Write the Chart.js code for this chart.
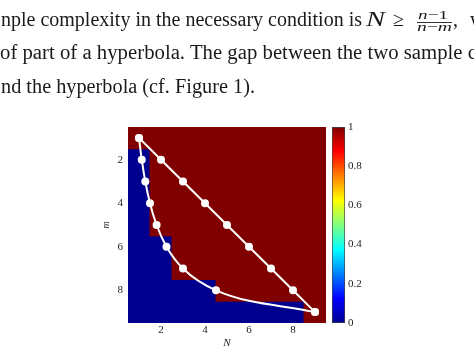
<!DOCTYPE html>
<html>
<head>
<meta charset="utf-8">
<script src="https://cdn.jsdelivr.net/npm/chart.js@4"></script>
<style>
  html, body { margin: 0; padding: 0; background: #fff; }
  body { width: 474px; height: 363px; position: relative; overflow: hidden; }
  canvas { position: absolute; left: 0; top: 0; }
  .txt {
    position: absolute;
    font-family: "Liberation Serif", serif;
    font-size: 20px;
    line-height: 20px;
    color: #1a1a1a;
    white-space: nowrap;
    transform-origin: 0 0;
  }
  .small { font-size: 13px; line-height: 13px; }
  .it { font-style: italic; }
  .bar { position: absolute; height: 1px; background: #333; }
</style>
</head>
<body>
<canvas id="heatmap" width="474" height="363"></canvas>
<canvas id="colorbar" width="474" height="363"></canvas>
<div id="page"></div>
<div class="bar" style="left:417px; top:22px; width:35px;"></div>

<script>
// grid axes
const nValues = [1, 2, 3, 4, 5, 6, 7, 8, 9];
const mValues = [1, 2, 3, 4, 5, 6, 7, 8, 9];

// success rate, one row per m, one column per N
const successGrid = [
  [1, 1, 1, 1, 1, 1, 1, 1, 1],
  [0, 1, 1, 1, 1, 1, 1, 1, 1],
  [0, 1, 1, 1, 1, 1, 1, 1, 1],
  [0, 1, 1, 1, 1, 1, 1, 1, 1],
  [0, 1, 1, 1, 1, 1, 1, 1, 1],
  [0, 0, 1, 1, 1, 1, 1, 1, 1],
  [0, 0, 1, 1, 1, 1, 1, 1, 1],
  [0, 0, 0, 0, 1, 1, 1, 1, 1],
  [0, 0, 0, 0, 0, 0, 0, 0, 1],
];

// sufficient condition line and necessary condition hyperbola
const lineN = [1, 2, 3, 4, 5, 6, 7, 8, 9];
const lineM = [1, 2, 3, 4, 5, 6, 7, 8, 9];
const hyperN = [1, 1.125, 1.286, 1.5, 1.8, 2.25, 3, 4.5, 9];
const hyperM = [1, 2, 3, 4, 5, 6, 7, 8, 9];

const xTicks = [2, 4, 6, 8];
const yTicks = [2, 4, 6, 8];
const colorbarTicks = [0, 0.2, 0.4, 0.6, 0.8, 1];
const colorbarLabels = ['0', '0.2', '0.4', '0.6', '0.8', '1'];

// jet colormap
const jetStops = [
  [0, [0, 0, 143]],
  [0.125, [0, 0, 255]],
  [0.375, [0, 255, 255]],
  [0.625, [255, 255, 0]],
  [0.875, [255, 0, 0]],
  [1, [128, 0, 0]],
];

function jet(v) {
  for (let i = 1; i < jetStops.length; i += 1) {
    const [p1, c1] = jetStops[i];
    const [p0, c0] = jetStops[i - 1];
    if (v <= p1) {
      const t = (v - p0) / (p1 - p0);
      const c = c0.map((a, k) => Math.round(a + (c1[k] - a) * t));
      return `rgb(${c[0]},${c[1]},${c[2]})`;
    }
  }
  return 'rgb(128,0,0)';
}

const tickFont = { family: 'Liberation Serif', size: 11 };

// one floating bar dataset per row of the grid
const cellSets = mValues.map((m, r) => ({
  type: 'bar',
  data: nValues.map((n) => ({ x: n, y: [m - 0.5, m + 0.5] })),
  backgroundColor: successGrid[r].map((v) => jet(v)),
  borderWidth: 0,
  barPercentage: 1,
  categoryPercentage: 1,
  grouped: false,
  inflateAmount: 0.5,
  order: 2,
}));

const curveStyle = {
  type: 'line',
  borderColor: '#fff',
  borderWidth: 2,
  pointRadius: 4,
  pointBackgroundColor: '#fff',
  pointBorderWidth: 0,
  fill: false,
  order: 0,
};

new Chart(document.getElementById('heatmap'), {
  type: 'bar',
  data: {
    datasets: [
      ...cellSets,
      { ...curveStyle, data: lineN.map((n, i) => ({ x: n, y: lineM[i] })) },
      {
        ...curveStyle,
        data: hyperN.map((n, i) => ({ x: n, y: hyperM[i] })),
        cubicInterpolationMode: 'monotone',
      },
    ],
  },
  options: {
    responsive: false,
    animation: false,
    devicePixelRatio: 1,
    layout: { padding: { left: 0, top: 127, right: 148, bottom: 0 } },
    plugins: { legend: { display: false }, tooltip: { enabled: false } },
    scales: {
      x: {
        type: 'linear',
        min: 0.5,
        max: 9.5,
        offset: false,
        grid: { display: false, drawTicks: false, offset: false },
        border: { display: false },
        ticks: { font: tickFont, color: '#222', padding: 1, maxRotation: 0 },
        afterBuildTicks: (scale) => { scale.ticks = xTicks.map((v) => ({ value: v })); },
        afterFit: (scale) => { scale.height = 40; },
        title: {
          display: true,
          text: 'N',
          font: { family: 'Liberation Serif', size: 11, style: 'italic' },
          color: '#222',
          padding: { top: 0, bottom: 13 },
        },
      },
      y: {
        type: 'linear',
        reverse: true,
        min: 0.5,
        max: 9.5,
        grid: { display: false, drawTicks: false },
        border: { display: false },
        ticks: { font: tickFont, color: '#222', padding: 5 },
        afterBuildTicks: (scale) => { scale.ticks = yTicks.map((v) => ({ value: v })); },
        afterFit: (scale) => { scale.width = 128; },
        title: {
          display: true,
          text: 'm',
          font: { family: 'Liberation Serif', size: 10, style: 'italic' },
          color: '#444',
          padding: { top: 100, bottom: 0 },
        },
      },
    },
  },
});

new Chart(document.getElementById('colorbar'), {
  type: 'bar',
  data: {
    labels: [''],
    datasets: [{
      data: [[colorbarTicks[0], colorbarTicks[colorbarTicks.length - 1]]],
      backgroundColor: (ctx) => {
        const area = ctx.chart.chartArea;
        if (!area) return jet(0.5);
        const g = ctx.chart.ctx.createLinearGradient(0, area.bottom, 0, area.top);
        jetStops.forEach(([p, c]) => g.addColorStop(p, `rgb(${c[0]},${c[1]},${c[2]})`));
        return g;
      },
      borderColor: '#444',
      borderWidth: 1,
      borderSkipped: false,
      barPercentage: 1,
      categoryPercentage: 1,
    }],
  },
  options: {
    responsive: false,
    animation: false,
    devicePixelRatio: 1,
    layout: { padding: { left: 332, top: 127, right: 89, bottom: 40 } },
    plugins: { legend: { display: false }, tooltip: { enabled: false } },
    scales: {
      x: { display: false },
      y: {
        position: 'right',
        min: 0,
        max: 1,
        grid: { display: false, drawTicks: false },
        border: { display: false },
        ticks: {
          font: tickFont,
          color: '#222',
          padding: 3,
          callback: (v, i) => colorbarLabels[i],
        },
        afterBuildTicks: (scale) => { scale.ticks = colorbarTicks.map((v) => ({ value: v })); },
        afterFit: (scale) => { scale.width = 40; },
      },
    },
  },
});

// page text around the figure: [text, left, right, baseline, classes]
const pageText = [
  ['nple complexity in the necessary condition is', 1, 362, 26, ''],
  ['N', 366, 385, 26, 'it'],
  ['\u2265', 393, 404, 26, ''],
  ['<i>n</i>\u22121', 418, 448, 19, 'small'],
  ['<i>n</i>\u2212<i>m</i>', 417, 452, 31, 'small'],
  [',', 453, null, 26, ''],
  ['w', 470, null, 26, ''],
  ['of part of a hyperbola.  The gap between the two sample c', 0, 477, 59, ''],
  ['nd the hyperbola (cf. Figure 1).', 1, 255, 93, ''],
];

const page = document.getElementById('page');
pageText.forEach(([text, left, right, base, cls]) => {
  const el = document.createElement('span');
  el.className = 'txt ' + cls;
  el.innerHTML = text;
  const size = cls.includes('small') ? 13 : 20;
  el.style.left = left + 'px';
  el.style.top = (base - size * 0.84) + 'px';
  page.appendChild(el);
  if (right !== null) {
    const w = el.getBoundingClientRect().width;
    el.style.transform = `scaleX(${(right - left) / w})`;
  }
});
</script>
</body>
</html>
